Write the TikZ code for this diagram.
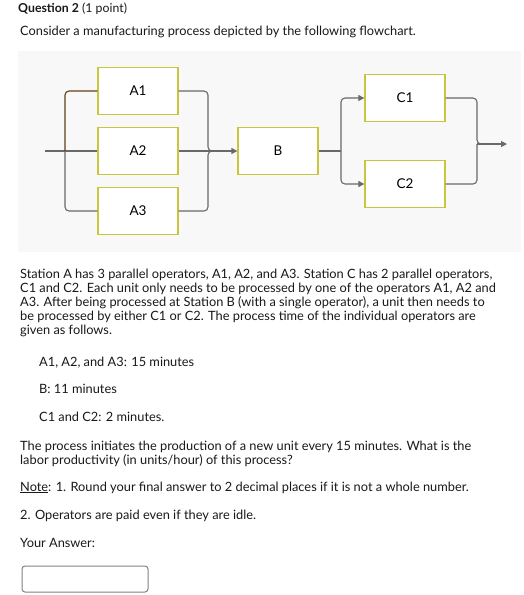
\documentclass[tikz,border=0pt]{standalone}
\usepackage{fontspec}
\setmainfont{Lato}
\usetikzlibrary{arrows.meta,positioning}
\definecolor{boxyellow}{RGB}{200,198,60}
\definecolor{lineg}{RGB}{105,105,105}
\definecolor{linebrown}{RGB}{95,65,25}
\definecolor{panelg}{RGB}{249,248,248}
\definecolor{txtc}{RGB}{25,25,25}
\definecolor{ansg}{RGB}{130,130,130}

\begin{document}
\begin{tikzpicture}[x=1pt,y=-1pt,
  opbox/.style={draw=boxyellow,line width=1.3pt,fill=white,minimum width=80pt,
    minimum height=47pt,inner sep=0pt,font=\fontsize{13.5}{14}\selectfont},
  flow/.style={draw=lineg,line width=1.1pt,rounded corners=4pt},
  arr/.style={flow,-{Triangle[length=6pt,width=6pt]}},
  txt/.style={anchor=base west,inner sep=0pt,text=txtc,align=left,
    font=\fontsize{12.8}{14}\selectfont}]

  \useasboundingbox (0,0) rectangle (523,595);
  \fill[white] (0,0) rectangle (523,595);
  \fill[panelg] (18,51) rectangle (521,252);

  % question header
  \node[txt,font=\fontsize{12.3}{14}\selectfont] (head) at (18,12.5) {\textbf{Question 2} (1 point)};
  \node[txt] (intro) at (20,35) {Consider a manufacturing process depicted by the following flowchart.};

  % stations
  \node[opbox] (a1) at (138,91) {A1};
  \node[opbox] (a2) at (138,151) {A2};
  \node[opbox] (a3) at (138,211) {A3};
  \node[opbox] (b) at (278,151) {B};
  \node[opbox] (c1) at (405,98) {C1};
  \node[opbox] (c2) at (405,184) {C2};

  \coordinate (in) at (45,151);
  \coordinate (split) at (65,151);
  \coordinate (merge) at (208,151);
  \coordinate (fork) at (341,151);
  \coordinate (join) at (477,144);
  \coordinate (out) at (507,144);

  % draw lines into station A
  \draw[flow] (in) -- (a2.west);
  \draw[flow] (split) |- (a3.west);
  \draw[flow,draw=linebrown] (split) |- (a1.west);

  % draw lines out of station A
  \draw[flow] (a1.east) -| (merge) -- ++(4,0);
  \draw[flow] (a3.east) -| (merge) -- ++(4,0);
  \draw[arr] (a2.east) -- (b.west);

  % draw lines through station C
  \draw[flow] (b.east) -- (fork);
  \draw[arr] (fork) |- (c1.west);
  \draw[arr] (fork) |- (c2.west);
  \draw[flow] (c1.east) -| (join) -- ++(4,0);
  \draw[flow] (c2.east) -| (join);
  \draw[arr] (join) -- (out);

  % question text (base = last line)
  \node[txt] (para) at (20,334) {Station A has 3 parallel operators, A1, A2, and A3. Station C has 2 parallel operators,\\
    C1 and C2. Each unit only needs to be processed by one of the operators A1, A2 and\\
    A3. After being processed at Station B (with a single operator), a unit then needs to\\
    be processed by either C1 or C2. The process time of the individual operators are\\
    given as follows.};
  \node[txt] (ta) at (39,366) {A1, A2, and A3: 15 minutes};
  \node[txt] (tb) at (39,393) {B: 11 minutes};
  \node[txt] (tc) at (39,421) {C1 and C2: 2 minutes.};
  \node[txt] (task) at (20,464) {The process initiates the production of a new unit every 15 minutes. What is the\\
    labor productivity (in units/hour) of this process?};
  \node[txt] (note) at (20,491) {\underline{Note}: 1. Round your final answer to 2 decimal places if it is not a whole number.};
  \node[txt] (note2) at (20,519) {2. Operators are paid even if they are idle.};
  \node[txt] (your) at (20,547) {Your Answer:};

  % answer field
  \draw[ansg,line width=1pt,rounded corners=3pt] (22,566) rectangle (148,592);
\end{tikzpicture}
\end{document}
